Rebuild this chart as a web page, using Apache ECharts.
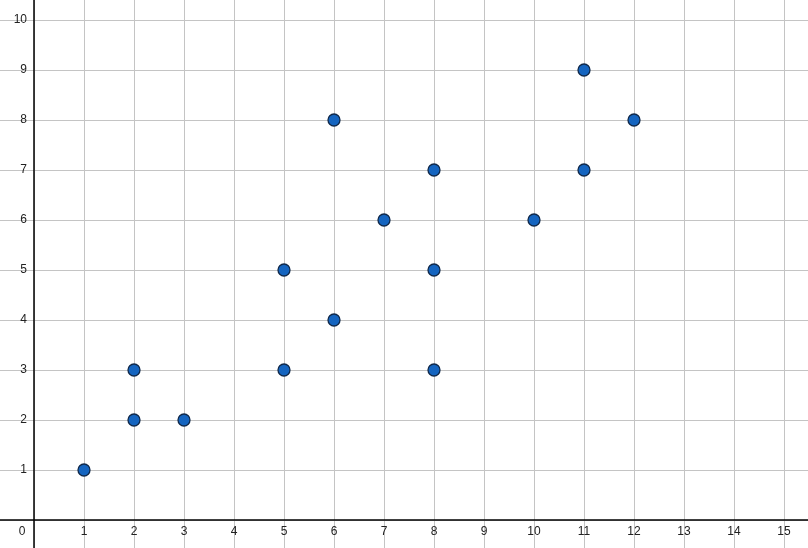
<!DOCTYPE html>
<html><head><meta charset="utf-8">
<script src="https://cdn.jsdelivr.net/npm/echarts@6/dist/echarts.min.js"></script>
<style>html,body{margin:0;padding:0;background:#fff}#c{width:808px;height:548px}</style>
</head><body><div id="c"></div>
<script>
const xValues = [1, 2, 2, 3, 5, 5, 6, 6, 7, 8, 8, 8, 10, 11, 11, 12];
const yValues = [1, 2, 3, 2, 3, 5, 4, 8, 6, 3, 5, 7, 6, 7, 9, 8];
const xTickLabels = ['1','2','3','4','5','6','7','8','9','10','11','12','13','14','15'];
const yTickLabels = ['1','2','3','4','5','6','7','8','9','10'];
const originLabel = '0';

const points = xValues.map((x, i) => [x, yValues[i]]);
const font = 'Liberation Sans, Arial, sans-serif';
const chart = echarts.init(document.getElementById('c'));
chart.setOption({
  animation: false,
  grid: { left: -16, top: -30, width: 850, height: 600, containLabel: false, outerBoundsMode: 'none' },
  xAxis: {
    type: 'value', min: -1, max: 16, interval: 1, offset: -50,
    axisLine: { onZero: false, lineStyle: { color: '#000', width: 1.5 } },
    axisTick: { show: false },
    splitLine: { show: true, lineStyle: { color: '#c4c4c4', width: 1 } },
    axisLabel: {
      margin: 6, fontSize: 12, color: '#222', fontFamily: font,
      formatter: v => v === 0 ? '{z|' + originLabel + '}' : (xTickLabels.includes(String(v)) ? String(v) : ''),
      rich: { z: { padding: [0, 24, 0, 0], fontSize: 12, color: '#222', fontFamily: font } }
    }
  },
  yAxis: {
    type: 'value', min: -1, max: 11, interval: 1, offset: -50,
    axisLine: { onZero: false, lineStyle: { color: '#000', width: 1.5 } },
    axisTick: { show: false },
    splitLine: { show: true, lineStyle: { color: '#c4c4c4', width: 1 } },
    axisLabel: {
      margin: 7, fontSize: 12, color: '#222', fontFamily: font,
      formatter: v => yTickLabels.includes(String(v)) ? String(v) : ''
    }
  },
  series: [{
    type: 'scatter', data: points, symbol: 'circle', symbolSize: 12,
    itemStyle: { color: '#1565c0', borderColor: '#10294a', borderWidth: 1.3, opacity: 1 }
  }]
});
</script></body></html>
